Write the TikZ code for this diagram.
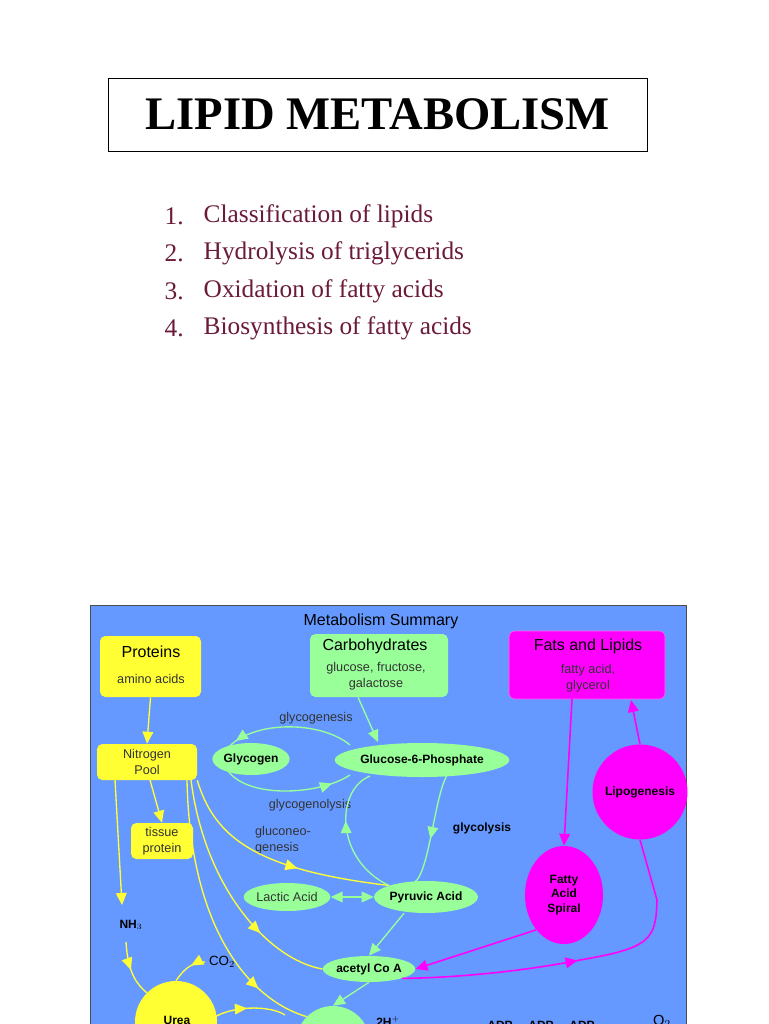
\documentclass[tikz,border=0pt]{standalone}
\usepackage{fontspec}
\setmainfont{Liberation Serif}
\newfontfamily\dsans{Liberation Sans}
\usetikzlibrary{shapes.geometric,arrows.meta,decorations.markings}
\definecolor{bgblue}{HTML}{6699FF}
\definecolor{lgreen}{HTML}{99FF99}
\definecolor{yel}{HTML}{FFFF33}
\definecolor{mag}{HTML}{FF00FF}
\definecolor{maroon}{HTML}{6B1A3A}
\tikzset{
  box/.style={rounded corners=4pt,align=center,inner sep=0pt},
  ell/.style={ellipse,inner sep=0pt,align=center},
  lbl/.style={font=\dsans\fontsize{9.5}{11}\selectfont,text=black!80},
  mid/.style={postaction={decorate},decoration={markings,mark=at position #1 with {\arrow{Triangle[length=9pt,width=8pt]}}}},
  ya/.style={draw=yel,line width=1pt},
  ga/.style={draw=lgreen,line width=1pt},
  ma/.style={draw=mag,line width=1.2pt},
  tip/.style={-{Triangle[length=9pt,width=8pt]}},
}
\begin{document}
\begin{tikzpicture}[x=0.75pt,y=-0.75pt]
\useasboundingbox (0,0) rectangle (768,1024);
\fill[white] (0,0) rectangle (768,1024);
\clip (0,0) rectangle (768,1024);
% top part
\node[draw,minimum width=539*0.75pt,minimum height=73*0.75pt,inner sep=0pt] (title) at (377.5,114.5)
  {\fontsize{35}{38}\selectfont\bfseries LIPID METABOLISM};
\foreach \i/\t [count=\k] in {216/Classification of lipids,253/Hydrolysis of triglycerids,291/Oxidation of fatty acids,328/Biosynthesis of fatty acids}{
  \node[anchor=west,text=maroon,font=\fontsize{19}{21}\selectfont] (n\k) at (160,\i) {\k.};
  \node[anchor=west,text=maroon,font=\fontsize{19}{21}\selectfont] (t\k) at (199,\i) {\t};
}
% diagram
\fill[bgblue,draw=black!70] (90,605) rectangle (686,1030);
\node[font=\dsans\fontsize{12}{14}\selectfont] (ms) at (381,621) {Metabolism Summary};
\node[box,fill=yel,minimum width=101*0.75pt,minimum height=61*0.75pt] (prot) at (150.5,666.5) {};
\node[font=\dsans\fontsize{12}{14}\selectfont] at (151,652) {Proteins};
\node[lbl] at (151,679) {amino acids};
\node[box,fill=lgreen,minimum width=138*0.75pt,minimum height=63*0.75pt] (carb) at (379,665.5) {};
\node[font=\dsans\fontsize{12}{14}\selectfont] at (375,646) {Carbohydrates};
\node[lbl,align=center,font=\dsans\fontsize{9.5}{12}\selectfont] at (376,676) {glucose, fructose,\\galactose};
\node[box,fill=mag,draw=mag!60!white,minimum width=156*0.75pt,minimum height=68*0.75pt] (fats) at (587,665) {};
\node[font=\dsans\fontsize{12}{14}\selectfont] at (588,646) {Fats and Lipids};
\node[lbl,align=center,font=\dsans\fontsize{9.5}{12}\selectfont] at (588,678) {fatty acid,\\glycerol};
\node[box,fill=yel,minimum width=100*0.75pt,minimum height=36*0.75pt,lbl,font=\dsans\fontsize{9.5}{12}\selectfont] (npool) at (147,762) {Nitrogen\\Pool};
\node[box,fill=yel,minimum width=62*0.75pt,minimum height=36*0.75pt,lbl,font=\dsans\fontsize{9.5}{12}\selectfont] (tiss) at (162,841) {tissue\\protein};
\node[ell,fill=lgreen,minimum width=64*0.75pt,minimum height=32*0.75pt,font=\dsans\bfseries\fontsize{9}{11}\selectfont] (glyc) at (251,759) {Glycogen};
\node[ell,fill=lgreen,minimum width=138*0.75pt,minimum height=34*0.75pt,font=\dsans\bfseries\fontsize{9}{11}\selectfont] (g6p) at (422,760) {Glucose-6-Phosphate};
\node[ell,fill=lgreen,minimum width=80*0.75pt,minimum height=28*0.75pt,lbl] (lact) at (287,897) {Lactic Acid};
\node[ell,fill=lgreen,minimum width=104*0.75pt,minimum height=32*0.75pt,font=\dsans\bfseries\fontsize{9}{11}\selectfont] (pyr) at (426,897) {Pyruvic Acid};
\node[ell,fill=lgreen,minimum width=86*0.75pt,minimum height=26*0.75pt,font=\dsans\bfseries\fontsize{9}{11}\selectfont] (acoa) at (369,969) {acetyl Co A};
\node[circle,fill=mag,minimum size=95*0.75pt,inner sep=0pt,font=\dsans\bfseries\fontsize{9}{11}\selectfont] (lipo) at (640,792) {Lipogenesis};
\node[ell,fill=mag,minimum width=78*0.75pt,minimum height=98*0.75pt,align=center,font=\dsans\bfseries\fontsize{9}{11}\selectfont] (fas) at (564,895) {Fatty\\Acid\\Spiral};
\node[circle,fill=yel,minimum size=82*0.75pt,inner sep=0pt] (urea) at (176,1022) {};
\node[font=\dsans\bfseries\fontsize{9}{11}\selectfont] at (177,1020) {Urea};
\node[circle,fill=lgreen,minimum size=74*0.75pt,inner sep=0pt] (krebs) at (333,1043) {};
\node[font=\dsans\bfseries\fontsize{9}{11}\selectfont] (nh3) at (131,925) {NH$_3$};
\node[font=\dsans\fontsize{10}{12}\selectfont] (co2) at (222,962) {CO$_2$};
\node[font=\dsans\bfseries\fontsize{9}{11}\selectfont] (h2) at (388,1021) {2H$^+$};
\node[font=\dsans\bfseries\fontsize{9}{11}\selectfont] (adp1) at (500,1025) {ADP};
\node[font=\dsans\bfseries\fontsize{9}{11}\selectfont] (adp2) at (541,1025) {ADP};
\node[font=\dsans\bfseries\fontsize{9}{11}\selectfont] (adp3) at (582,1025) {ADP};
\node[font=\dsans\fontsize{11}{12}\selectfont] (o2) at (662,1021) {O$_2$};
\node[lbl] at (316,718) {glycogenesis};
\node[lbl] at (310,805) {glycogenolysis};
\node[lbl,align=left,font=\dsans\fontsize{9.5}{12}\selectfont] at (283,840) {gluconeo-\\genesis};
\node[font=\dsans\bfseries\fontsize{9}{11}\selectfont] at (482,828) {glycolysis};
% yellow connectors
\draw[ya,tip] (prot.south) -- (npool.north);
\draw[ya,tip] (150,780) -- (tiss.north);
\draw[ya,tip] (115,780) -- (122,905);
\draw[ya,mid=0.5] (126,942) .. controls (128,975) and (138,985) .. (urea.north west);
\coordinate (co2e) at (205,962);
\draw[ya,mid=0.4] (co2e) .. controls (190,962) and (182,972) .. (urea.north);
\draw[ya,mid=0.6] (npool.south east) .. controls (215,840) and (260,870) .. (pyr.north west);
\draw[ya,mid=0.7] (191,780) .. controls (205,890) and (270,960) .. (acoa.west);
\draw[ya,mid=0.8] (187,780) .. controls (190,930) and (250,1000) .. (krebs.north west);
\draw[ya,mid=0.5] (210,1020) .. controls (230,1005) and (270,1005) .. (285,1015);
% green connectors
\draw[ga,tip] (carb.south) ++(-21,0) -- (378,742);
\draw[ga,mid=0.9] (350,745) .. controls (320,720) and (250,720) .. (226,750);
\draw[ga,mid=0.85] (226,768) .. controls (245,800) and (320,795) .. (350,775);
\draw[ga,mid=0.6] (pyr.north west) .. controls (335,860) and (335,790) .. (370,776);
\draw[ga,mid=0.6] (g6p.south east) ++(-35,0) .. controls (435,790) and (430,870) .. (415,882);
\draw[ga,{Triangle[length=9pt,width=8pt]}-{Triangle[length=9pt,width=8pt]}] (lact.east) -- (pyr.west);
\draw[ga,tip] (pyr.south) ++(-22,0) -- (acoa.north);
\draw[ga,tip] (acoa.south) -- (krebs.north);
% magenta
\draw[ma,tip] (572,699) -- (fas.north);
\draw[ma,tip] (lipo.north) -- (631,700);
\draw[ma,tip] (fas.south west) -- (acoa.east);
\draw[ma,mid=0.5] (acoa.south east) .. controls (450,978) and (520,972) .. (580,960) .. controls (650,948) and (656,940) .. (657,900) -- (lipo.south);
\end{tikzpicture}
\end{document}
